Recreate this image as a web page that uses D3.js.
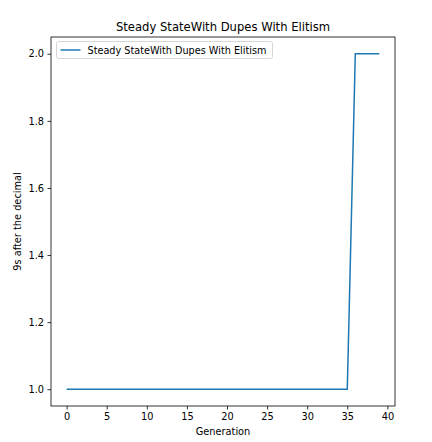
<!DOCTYPE html>
<html>
<head>
<meta charset="utf-8">
<script src="https://cdn.jsdelivr.net/npm/d3@7"></script>
<style>
  body { margin: 0; background: #fff; }
  text { font-family: "DejaVu Sans", sans-serif; fill: #000; }
</style>
</head>
<body>
<svg id="chart" width="432" height="442"></svg>
<script>
const title = 'Steady StateWith Dupes With Elitism';
const generations = d3.range(0, 40);
const nines = [
  1, 1, 1, 1, 1, 1, 1, 1, 1, 1,
  1, 1, 1, 1, 1, 1, 1, 1, 1, 1,
  1, 1, 1, 1, 1, 1, 1, 1, 1, 1,
  1, 1, 1, 1, 1, 1, 2, 2, 2, 2
];
const xTicks = [0, 5, 10, 15, 20, 25, 30, 35, 40];
const yTicks = [1.0, 1.2, 1.4, 1.6, 1.8, 2.0];

const data = generations.map((g, i) => ({ g, v: nines[i] }));

const svg = d3.select('#chart');
const margin = { top: 37, right: 37, bottom: 36, left: 51 };
const width = 432, height = 442;

// matplotlib style 5% padding on each side
const xPad = (d3.max(generations) - d3.min(generations)) * 0.05;
const yPad = (d3.max(nines) - d3.min(nines)) * 0.05;

const x = d3.scaleLinear()
  .domain([d3.min(generations) - xPad, d3.max(generations) + xPad])
  .range([margin.left, width - margin.right]);

const y = d3.scaleLinear()
  .domain([d3.min(nines) - yPad, d3.max(nines) + yPad])
  .range([height - margin.bottom, margin.top]);

const xAxis = svg.append('g')
  .attr('transform', `translate(0,${height - margin.bottom})`)
  .call(d3.axisBottom(x).tickValues(xTicks).tickSize(3.5).tickPadding(3.5).tickFormat(d3.format('d')));

const yAxis = svg.append('g')
  .attr('transform', `translate(${margin.left},0)`)
  .call(d3.axisLeft(y).tickValues(yTicks).tickSize(3.5).tickPadding(3.5).tickFormat(d3.format('.1f')));

[xAxis, yAxis].forEach(a => {
  a.select('.domain').remove();
  a.selectAll('.tick line').attr('stroke', '#000').attr('stroke-width', 0.8);
  a.selectAll('.tick text').attr('font-size', 9.8).attr('font-family', '"DejaVu Sans", sans-serif').attr('fill', '#000');
});

// frame
svg.append('rect')
  .attr('x', margin.left)
  .attr('y', margin.top)
  .attr('width', width - margin.left - margin.right)
  .attr('height', height - margin.top - margin.bottom)
  .attr('fill', 'none')
  .attr('stroke', '#000')
  .attr('stroke-width', 0.8);

const line = d3.line()
  .x(d => x(d.g))
  .y(d => y(d.v));

svg.append('path')
  .datum(data)
  .attr('fill', 'none')
  .attr('stroke', '#1f77b4')
  .attr('stroke-width', 1.5)
  .attr('d', line);

// title and labels
const cx = (margin.left + width - margin.right) / 2;
svg.append('text')
  .attr('x', cx).attr('y', 31)
  .attr('text-anchor', 'middle')
  .attr('font-size', 11.6)
  .text(title);

svg.append('text')
  .attr('x', cx).attr('y', 435)
  .attr('text-anchor', 'middle')
  .attr('font-size', 9.8)
  .text('Generation');

svg.append('text')
  .attr('transform', `translate(21,${(margin.top + height - margin.bottom) / 2}) rotate(-90)`)
  .attr('text-anchor', 'middle')
  .attr('font-size', 9.8)
  .text('9s after the decimal');

// legend
const lg = svg.append('g').attr('transform', `translate(${margin.left + 5.5},${margin.top + 4.5})`);
lg.append('rect')
  .attr('width', 216).attr('height', 17)
  .attr('rx', 2)
  .attr('fill', '#fff').attr('fill-opacity', 0.8)
  .attr('stroke', '#ccc').attr('stroke-width', 0.8);
lg.append('line')
  .attr('x1', 4).attr('x2', 24).attr('y1', 8.5).attr('y2', 8.5)
  .attr('stroke', '#1f77b4').attr('stroke-width', 1.5);
lg.append('text')
  .attr('x', 31).attr('y', 12.2)
  .attr('font-size', 9.7)
  .text(title);
</script>
</body>
</html>
